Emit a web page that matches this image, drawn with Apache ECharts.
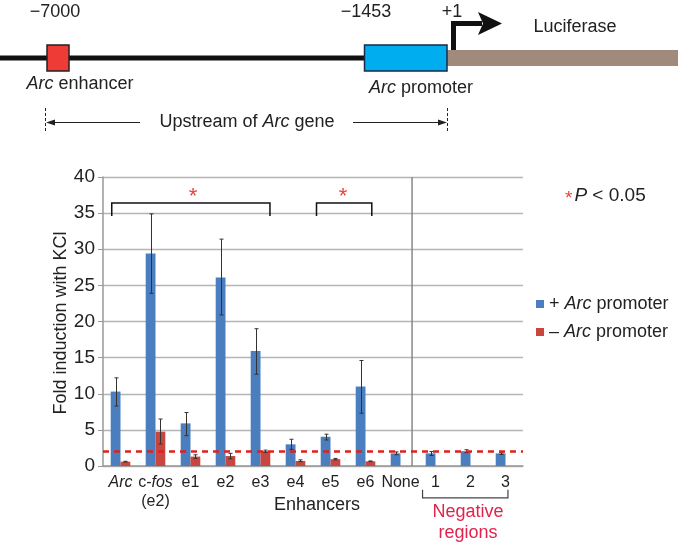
<!DOCTYPE html>
<html>
<head>
<meta charset="utf-8">
<script src="https://cdn.jsdelivr.net/npm/echarts@6/dist/echarts.min.js"></script>
<style>
html,body{margin:0;padding:0;background:#fff;}
#c{width:685px;height:544px;}
</style>
</head>
<body>
<div id="c"></div>
<script>
// ---- data ----
const categories = ['Arc','c-fos','e1','e2','e3','e4','e5','e6','None','1','2','3'];
const plusArc = [10.3, 29.4, 5.9, 26.1, 15.9, 3.0, 4.05, 11.0, 1.75, 1.75, 2.05, 1.75];
const plusLow = [8.3, 23.9, 4.2, 20.9, 12.7, 2.3, 3.6, 7.3, 1.55, 1.45, 1.85, 1.6];
const plusHigh = [12.2, 34.9, 7.4, 31.4, 19.0, 3.7, 4.4, 14.6, 1.95, 2.0, 2.25, 1.85];
const minusArc = [0.6, 4.75, 1.3, 1.38, 2.05, 0.7, 0.95, 0.65, null, null, null, null];
const minusLow = [0.55, 3.05, 1.05, 1.0, 1.9, 0.6, 0.85, 0.6, null, null, null, null];
const minusHigh = [0.65, 6.5, 1.55, 1.75, 2.2, 0.85, 1.05, 0.7, null, null, null, null];
const threshold = 2;
const yTicks = {min: 0, max: 40, interval: 5};
// significance brackets: [fromPos, toPos, topY, legY, starX, starY]
const brackets = [[-0.25, 4.27, 36.4, 34.6, 2.07, 37.9], [5.6, 7.18, 36.4, 34.6, 6.36, 37.9]];
const separatorPos = 8.33;
const negBracket = [[8.63, 11.07, -4.4, -3.3]];

const FONT = "'Liberation Sans', Arial, sans-serif";
const BLUE = '#4a7ebf', RED = '#c8463f';
const chart = echarts.init(document.getElementById('c'), null, {renderer: 'canvas'});

function errSeries(name, low, high, side) {
  const data = low.map((l, i) => l == null ? null : [i, l, high[i]]).filter(d => d);
  return {
    type: 'custom', name: name + '_err', xAxisIndex: 0, yAxisIndex: 0, silent: true, z: 5,
    data: data,
    encode: {x: 0, y: [1, 2]},
    renderItem: function (params, api) {
      const i = api.value(0);
      const bw = api.size([1, 0])[0] * 0.28;
      const lo = api.coord([i, api.value(1)]);
      const hi = api.coord([i, api.value(2)]);
      const x = Math.round(lo[0] + side * bw / 2) + 0.5;
      const cap = 2;
      const st = {stroke: '#333', lineWidth: 1};
      return {type: 'group', children: [
        {type: 'line', shape: {x1: x, y1: lo[1], x2: x, y2: hi[1]}, style: st},
        {type: 'line', shape: {x1: x - cap, y1: lo[1], x2: x + cap, y2: lo[1]}, style: st},
        {type: 'line', shape: {x1: x - cap, y1: hi[1], x2: x + cap, y2: hi[1]}, style: st}
      ]};
    }
  };
}

const option = {
  animation: false,
  textStyle: {fontFamily: FONT},
  grid: {left: 103, right: 162, top: 177, bottom: 78, containLabel: false},
  legend: {
    orient: 'vertical', left: 531, top: 290, itemWidth: 8, itemHeight: 8, itemGap: 10,
    icon: 'rect',
    data: ['+ Arc promoter', '– Arc promoter'],
    formatter: function (n) { return n.charAt(0) + ' {i|Arc} promoter'; },
    textStyle: {fontSize: 18, color: '#222', fontFamily: FONT,
      rich: {i: {fontStyle: 'italic', fontSize: 18, color: '#222', fontFamily: FONT}}}
  },
  xAxis: [{
    type: 'category', data: categories,
    axisLine: {lineStyle: {color: '#999', width: 1.5}},
    axisTick: {show: false},
    axisLabel: {
      interval: 0, margin: 7, color: '#222', fontSize: 16, fontFamily: FONT,
      formatter: function (v) {
        if (v === 'Arc') return '{i|Arc}';
        if (v === 'c-fos') return '{n|c-}{i|fos}\n{n|(e2)}';
        return '{n|' + v + '}';
      },
      rich: {
        i: {fontStyle: 'italic', fontSize: 16, color: '#222', fontFamily: FONT, lineHeight: 19},
        n: {fontSize: 16, color: '#222', fontFamily: FONT, lineHeight: 19}
      }
    },
    splitLine: {show: false}
  }, {
    type: 'value', min: -0.5, max: 11.5, show: false, position: 'top',
    splitLine: {show: false}
  }],
  yAxis: {
    type: 'value', min: yTicks.min, max: yTicks.max, interval: yTicks.interval,
    axisLine: {show: true, onZero: false, lineStyle: {color: '#999', width: 1.5}},
    axisTick: {show: true, length: 5, lineStyle: {color: '#999'}},
    axisLabel: {fontSize: 19, color: '#222', margin: 8, fontFamily: FONT},
    splitLine: {lineStyle: {color: '#b5b5b5', width: 1.3}}
  },
  series: [
    {
      name: '+ Arc promoter', type: 'bar', data: plusArc, barWidth: '28%', barGap: '0%',
      itemStyle: {color: BLUE}, z: 3,
      markLine: {
        silent: true, symbol: 'none', label: {show: false},
        lineStyle: {color: '#e0201c', type: [6, 5], width: 2.5},
        data: [{yAxis: threshold}], z: 6
      }
    },
    {
      name: '– Arc promoter', type: 'bar', data: minusArc, barWidth: '28%', barGap: '0%',
      itemStyle: {color: RED}, z: 3
    },
    errSeries('plus', plusLow, plusHigh, -1),
    errSeries('minus', minusLow, minusHigh, 1),
    {
      type: 'custom', xAxisIndex: 1, yAxisIndex: 0, silent: true, z: 4,
      data: [[separatorPos]],
      encode: {x: 0},
      renderItem: function (params, api) {
        const a = api.coord([api.value(0), yTicks.max]);
        const b = api.coord([api.value(0), yTicks.min]);
        return {type: 'line', shape: {x1: a[0], y1: a[1], x2: b[0], y2: b[1]},
          style: {stroke: '#888', lineWidth: 1.5}};
      }
    },
    {
      type: 'custom', xAxisIndex: 1, yAxisIndex: 0, silent: true, z: 6,
      data: brackets,
      encode: {x: [0, 1], y: [2, 3]},
      renderItem: function (params, api) {
        const p0 = api.coord([api.value(0), api.value(2)]);
        const p1 = api.coord([api.value(1), api.value(2)]);
        const leg = api.coord([api.value(0), api.value(3)]);
        const s = api.coord([api.value(4), api.value(5)]);
        return {type: 'group', children: [
          {type: 'polyline', shape: {points: [[p0[0], leg[1]], [p0[0], p0[1]], [p1[0], p1[1]], [p1[0], leg[1]]]},
            style: {stroke: '#111', lineWidth: 1.5, fill: null}},
          {type: 'text', x: s[0], y: s[1] + 5, style: {text: '*', fill: '#e8443a', fontSize: 22,
            fontFamily: FONT, align: 'center', verticalAlign: 'middle'}}
        ]};
      }
    },
    {
      type: 'custom', xAxisIndex: 1, yAxisIndex: 0, silent: true, z: 6,
      data: negBracket,
      encode: {x: [0, 1]},
      renderItem: function (params, api) {
        const p0 = api.coord([api.value(0), api.value(2)]);
        const p1 = api.coord([api.value(1), api.value(2)]);
        const leg = api.coord([api.value(0), api.value(3)]);
        return {type: 'polyline', shape: {points: [[p0[0], leg[1]], [p0[0], p0[1]], [p1[0], p1[1]], [p1[0], leg[1]]]},
          style: {stroke: '#444', lineWidth: 1.2, fill: null}};
      }
    }
  ],
  graphic: [
    // gene diagram
    {type: 'rect', shape: {x: 0, y: 55.5, width: 366, height: 5}, style: {fill: '#111'}},
    {type: 'rect', shape: {x: 447, y: 50, width: 231, height: 16}, style: {fill: '#a08a7c'}},
    {type: 'rect', shape: {x: 47, y: 45, width: 22, height: 26}, style: {fill: '#ee3b35', stroke: '#222', lineWidth: 1.5}},
    {type: 'rect', shape: {x: 364.5, y: 45, width: 82.5, height: 26}, style: {fill: '#00aeef', stroke: '#1a2a4a', lineWidth: 1.5}},
    {type: 'polyline', shape: {points: [[453.5, 50], [453.5, 23.5], [482, 23.5]]}, style: {stroke: '#111', lineWidth: 5, fill: null}},
    {type: 'polygon', shape: {points: [[478, 12], [502, 23.5], [478, 35], [483, 23.5]]}, style: {fill: '#111'}},
    {type: 'text', x: 55, y: 12, style: {text: '−7000', fontSize: 18, fill: '#222', fontFamily: FONT, align: 'center', verticalAlign: 'middle'}},
    {type: 'text', x: 366, y: 12, style: {text: '−1453', fontSize: 18, fill: '#222', fontFamily: FONT, align: 'center', verticalAlign: 'middle'}},
    {type: 'text', x: 452, y: 12, style: {text: '+1', fontSize: 18, fill: '#222', fontFamily: FONT, align: 'center', verticalAlign: 'middle'}},
    {type: 'text', x: 575, y: 27, style: {text: 'Luciferase', fontSize: 18, fill: '#222', fontFamily: FONT, align: 'center', verticalAlign: 'middle'}},
    {type: 'text', x: 80, y: 84, style: {text: '{i|Arc} enhancer', fontSize: 18, fill: '#222', fontFamily: FONT, align: 'center', verticalAlign: 'middle',
      rich: {i: {fontStyle: 'italic', fontSize: 18, fill: '#222', fontFamily: FONT}}}},
    {type: 'text', x: 421, y: 88, style: {text: '{i|Arc} promoter', fontSize: 18, fill: '#222', fontFamily: FONT, align: 'center', verticalAlign: 'middle',
      rich: {i: {fontStyle: 'italic', fontSize: 18, fill: '#222', fontFamily: FONT}}}},
    {type: 'line', shape: {x1: 45.5, y1: 108, x2: 45.5, y2: 133}, style: {stroke: '#222', lineWidth: 1, lineDash: [3, 2]}},
    {type: 'line', shape: {x1: 447.5, y1: 108, x2: 447.5, y2: 133}, style: {stroke: '#222', lineWidth: 1, lineDash: [3, 2]}},
    {type: 'line', shape: {x1: 52, y1: 122.5, x2: 140, y2: 122.5}, style: {stroke: '#222', lineWidth: 1}},
    {type: 'polygon', shape: {points: [[46, 122.5], [55, 119.5], [55, 125.5]]}, style: {fill: '#222'}},
    {type: 'line', shape: {x1: 353, y1: 122.5, x2: 441, y2: 122.5}, style: {stroke: '#222', lineWidth: 1}},
    {type: 'polygon', shape: {points: [[447, 122.5], [438, 119.5], [438, 125.5]]}, style: {fill: '#222'}},
    {type: 'text', x: 247, y: 122, style: {text: 'Upstream of {i|Arc} gene', fontSize: 18, fill: '#222', fontFamily: FONT, align: 'center', verticalAlign: 'middle',
      rich: {i: {fontStyle: 'italic', fontSize: 18, fill: '#222', fontFamily: FONT}}}},
    // chart texts
    {type: 'text', x: 61, y: 323, rotation: Math.PI / 2, style: {text: 'Fold induction with KCl', fontSize: 18, fill: '#222', fontFamily: FONT, align: 'center', verticalAlign: 'middle'}},
    {type: 'text', x: 317, y: 505, style: {text: 'Enhancers', fontSize: 18, fill: '#222', fontFamily: FONT, align: 'center', verticalAlign: 'middle'}},
    {type: 'text', x: 468, y: 512, style: {text: 'Negative', fontSize: 18, fill: '#e0244e', fontFamily: FONT, align: 'center', verticalAlign: 'middle'}},
    {type: 'text', x: 468, y: 533, style: {text: 'regions', fontSize: 18, fill: '#e0244e', fontFamily: FONT, align: 'center', verticalAlign: 'middle'}},
    {type: 'text', x: 565, y: 196, style: {text: '{s|*}{i|P} < 0.05', fontSize: 19, fill: '#222', fontFamily: FONT, align: 'left', verticalAlign: 'middle',
      rich: {s: {fill: '#e8443a', fontSize: 19, fontFamily: FONT, padding: [6, 2, 0, 0]}, i: {fontStyle: 'italic', fontSize: 19, fill: '#222', fontFamily: FONT}}}}
  ]
};
chart.setOption(option);
</script>
</body>
</html>
